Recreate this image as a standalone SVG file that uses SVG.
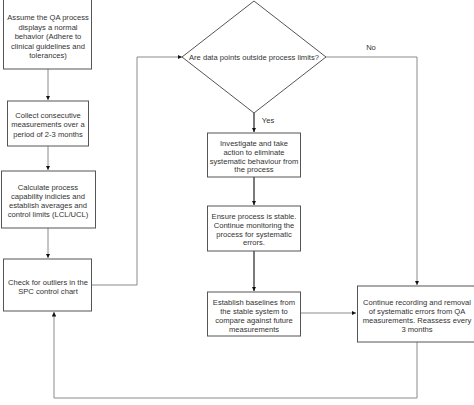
<svg xmlns="http://www.w3.org/2000/svg" width="474" height="405" viewBox="0 0 474 405">
<style>
.box{fill:#fff;stroke:#555;stroke-width:1}
.t{font-family:"Liberation Sans",Arial,sans-serif;font-size:7.6px;fill:#333;text-anchor:middle}
.g{fill:none;stroke:#8a8a8a;stroke-width:1}
.k{fill:none;stroke:#222;stroke-width:1.2}
</style>
<defs>
<marker id="ah" viewBox="0 0 10 10" refX="10" refY="5" markerWidth="4.5" markerHeight="4.5" orient="auto" markerUnits="userSpaceOnUse">
<path d="M0,0 L10,5 L0,10 z" fill="#111"/>
</marker>
</defs>
<rect width="474" height="405" fill="#fff"/>
<g id="connectors">
<path class="g" d="M48,69 V100" marker-end="url(#ah)"/>
<path class="g" d="M48,146 V170" marker-end="url(#ah)"/>
<path class="g" d="M48,228 V258" marker-end="url(#ah)"/>
<path class="g" d="M92,285 H137 V57 H182" marker-end="url(#ah)"/>
<path class="k" d="M254,113 V132" marker-end="url(#ah)"/>
<path class="k" d="M254,177 V205" marker-end="url(#ah)"/>
<path class="k" d="M254,251 V291" marker-end="url(#ah)"/>
<path class="g" d="M301,313 H356" marker-end="url(#ah)"/>
<path class="g" d="M326,57 H417 V285" marker-end="url(#ah)"/>
<path class="g" d="M417,342 V398 H54 V312" marker-end="url(#ah)"/>
<text class="t" x="268" y="123">Yes</text>
<text class="t" x="371" y="50">No</text>
</g>
<g id="n1">
<rect class="box" x="3.5" y="-2" width="88" height="71"/>
<text class="t" x="48" y="20">Assume the QA  process</text>
<text class="t" x="48" y="29.5">displays a normal</text>
<text class="t" x="48" y="39">behavior (Adhere to</text>
<text class="t" x="48" y="48.5">clinical guidelines and</text>
<text class="t" x="48" y="58">tolerances)</text>
</g>
<g id="n2">
<rect class="box" x="7.5" y="101" width="81" height="45"/>
<text class="t" x="48" y="117.5">Collect consecutive</text>
<text class="t" x="48" y="127">measurements over a</text>
<text class="t" x="48" y="136.5">period of 2-3 months</text>
</g>
<g id="n3">
<rect class="box" x="1.5" y="171" width="94" height="57"/>
<text class="t" x="48" y="189.5">Calculate process</text>
<text class="t" x="48" y="198.5">capability indicies and</text>
<text class="t" x="48" y="207.5">establish averages and</text>
<text class="t" x="48" y="216.5">control limits (LCL/UCL)</text>
</g>
<g id="n4">
<rect class="box" x="3.5" y="259" width="88" height="52"/>
<text class="t" x="48" y="284.5">Check for outliers in the</text>
<text class="t" x="48" y="293.5">SPC control chart</text>
</g>
<g id="d1">
<path class="box" d="M254,1 L326,57 L254,113 L182,57 z"/>
<text class="t" x="254" y="60">Are data points outside process limits?</text>
</g>
<g id="n5">
<rect class="box" x="207.5" y="133" width="93" height="44"/>
<text class="t" x="254" y="145.5">Investigate and take</text>
<text class="t" x="254" y="154.5">action to eliminate</text>
<text class="t" x="254" y="163.5">systematic behaviour from</text>
<text class="t" x="254" y="172">the process</text>
</g>
<g id="n6">
<rect class="box" x="207.5" y="206" width="93" height="45"/>
<text class="t" x="254" y="218.5">Ensure process is stable.</text>
<text class="t" x="254" y="227.5">Continue monitoring the</text>
<text class="t" x="254" y="236.5">process for systematic</text>
<text class="t" x="254" y="245">errors.</text>
</g>
<g id="n7">
<rect class="box" x="207.5" y="292" width="93" height="44"/>
<text class="t" x="254" y="304.5">Establish baselines from</text>
<text class="t" x="254" y="313.5">the stable system to</text>
<text class="t" x="254" y="322.5">compare against future</text>
<text class="t" x="254" y="331.5">measurements</text>
</g>
<g id="n8">
<rect class="box" x="357.5" y="286" width="120" height="56"/>
<text class="t" x="417" y="304.5">Continue recording and removal</text>
<text class="t" x="417" y="313.5">of systematic errors from QA</text>
<text class="t" x="417" y="322.5">measurements. Reassess every</text>
<text class="t" x="417" y="331.5">3 months</text>
</g>
</svg>
